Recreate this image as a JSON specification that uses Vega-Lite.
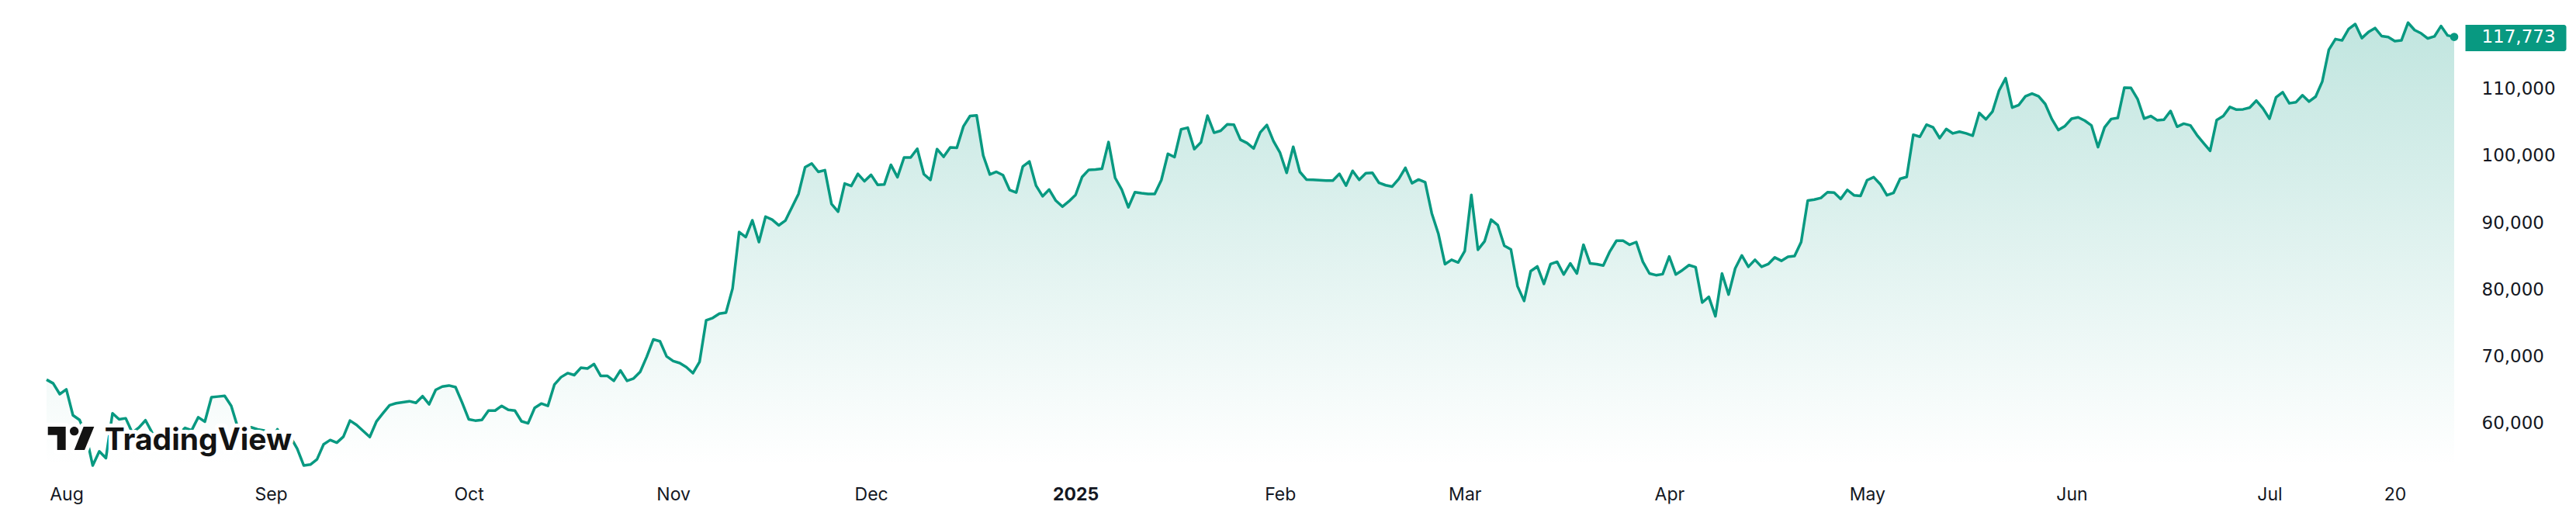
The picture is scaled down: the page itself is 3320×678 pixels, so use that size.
{"$schema":"https://vega.github.io/schema/vega-lite/v6.json","width":3103,"height":600,"autosize":"none","padding":{"left":60,"top":0,"right":157,"bottom":78},"background":"white","config":{"view":{"stroke":null},"font":"Inter"},
"datasets":{"btc":[
{"date":"2024-07-29","price":66520},{"date":"2024-07-30","price":65970},{"date":"2024-07-31","price":64360},
{"date":"2024-08-01","price":65065},{"date":"2024-08-02","price":61200},{"date":"2024-08-03","price":60500},{"date":"2024-08-04","price":58200},{"date":"2024-08-05","price":53680},{"date":"2024-08-06","price":55800},{"date":"2024-08-07","price":54800},{"date":"2024-08-08","price":61500},{"date":"2024-08-09","price":60600},{"date":"2024-08-10","price":60750},{"date":"2024-08-11","price":58600},{"date":"2024-08-12","price":59350},{"date":"2024-08-13","price":60450},{"date":"2024-08-14","price":58600},{"date":"2024-08-15","price":57500},{"date":"2024-08-16","price":58900},{"date":"2024-08-17","price":59500},{"date":"2024-08-18","price":58400},{"date":"2024-08-19","price":59300},{"date":"2024-08-20","price":58950},{"date":"2024-08-21","price":60900},{"date":"2024-08-22","price":60250},{"date":"2024-08-23","price":63900},{"date":"2024-08-24","price":64000},{"date":"2024-08-25","price":64100},{"date":"2024-08-26","price":62600},{"date":"2024-08-27","price":59350},{"date":"2024-08-28","price":59000},{"date":"2024-08-29","price":59400},{"date":"2024-08-30","price":59100},{"date":"2024-08-31","price":58900},
{"date":"2024-09-01","price":57300},{"date":"2024-09-02","price":59100},{"date":"2024-09-03","price":57500},{"date":"2024-09-04","price":57950},{"date":"2024-09-05","price":56200},{"date":"2024-09-06","price":53680},{"date":"2024-09-07","price":53830},{"date":"2024-09-08","price":54600},{"date":"2024-09-09","price":56850},{"date":"2024-09-10","price":57500},{"date":"2024-09-11","price":57100},{"date":"2024-09-12","price":58000},{"date":"2024-09-13","price":60400},{"date":"2024-09-14","price":59750},{"date":"2024-09-15","price":58850},{"date":"2024-09-16","price":57950},{"date":"2024-09-17","price":60250},{"date":"2024-09-18","price":61500},{"date":"2024-09-19","price":62700},{"date":"2024-09-20","price":63000},{"date":"2024-09-21","price":63150},{"date":"2024-09-22","price":63300},{"date":"2024-09-23","price":63050},{"date":"2024-09-24","price":64050},{"date":"2024-09-25","price":62850},{"date":"2024-09-26","price":65000},{"date":"2024-09-27","price":65500},{"date":"2024-09-28","price":65650},{"date":"2024-09-29","price":65400},{"date":"2024-09-30","price":63100},
{"date":"2024-10-01","price":60600},{"date":"2024-10-02","price":60400},{"date":"2024-10-03","price":60500},{"date":"2024-10-04","price":61900},{"date":"2024-10-05","price":61900},{"date":"2024-10-06","price":62600},{"date":"2024-10-07","price":62000},{"date":"2024-10-08","price":61900},{"date":"2024-10-09","price":60300},{"date":"2024-10-10","price":60000},{"date":"2024-10-11","price":62300},{"date":"2024-10-12","price":62950},{"date":"2024-10-13","price":62600},{"date":"2024-10-14","price":65800},{"date":"2024-10-15","price":66900},{"date":"2024-10-16","price":67500},{"date":"2024-10-17","price":67200},{"date":"2024-10-18","price":68300},{"date":"2024-10-19","price":68200},{"date":"2024-10-20","price":68850},{"date":"2024-10-21","price":67100},{"date":"2024-10-22","price":67100},{"date":"2024-10-23","price":66350},{"date":"2024-10-24","price":67900},{"date":"2024-10-25","price":66350},{"date":"2024-10-26","price":66700},{"date":"2024-10-27","price":67700},{"date":"2024-10-28","price":69980},{"date":"2024-10-29","price":72550},{"date":"2024-10-30","price":72250},{"date":"2024-10-31","price":70000},
{"date":"2024-11-01","price":69300},{"date":"2024-11-02","price":69000},{"date":"2024-11-03","price":68400},{"date":"2024-11-04","price":67500},{"date":"2024-11-05","price":69200},{"date":"2024-11-06","price":75400},{"date":"2024-11-07","price":75750},{"date":"2024-11-08","price":76400},{"date":"2024-11-09","price":76550},{"date":"2024-11-10","price":80150},{"date":"2024-11-11","price":88600},{"date":"2024-11-12","price":87850},{"date":"2024-11-13","price":90350},{"date":"2024-11-14","price":87100},{"date":"2024-11-15","price":90900},{"date":"2024-11-16","price":90450},{"date":"2024-11-17","price":89600},{"date":"2024-11-18","price":90300},{"date":"2024-11-19","price":92300},{"date":"2024-11-20","price":94300},{"date":"2024-11-21","price":98300},{"date":"2024-11-22","price":98850},{"date":"2024-11-23","price":97600},{"date":"2024-11-24","price":97850},{"date":"2024-11-25","price":92800},{"date":"2024-11-26","price":91650},{"date":"2024-11-27","price":95850},{"date":"2024-11-28","price":95500},{"date":"2024-11-29","price":97300},{"date":"2024-11-30","price":96200},
{"date":"2024-12-01","price":97150},{"date":"2024-12-02","price":95650},{"date":"2024-12-03","price":95700},{"date":"2024-12-04","price":98650},{"date":"2024-12-05","price":96800},{"date":"2024-12-06","price":99750},{"date":"2024-12-07","price":99750},{"date":"2024-12-08","price":101050},{"date":"2024-12-09","price":97250},{"date":"2024-12-10","price":96400},{"date":"2024-12-11","price":101000},{"date":"2024-12-12","price":99850},{"date":"2024-12-13","price":101250},{"date":"2024-12-14","price":101200},{"date":"2024-12-15","price":104400},{"date":"2024-12-16","price":105950},{"date":"2024-12-17","price":106050},{"date":"2024-12-18","price":100050},{"date":"2024-12-19","price":97200},{"date":"2024-12-20","price":97600},{"date":"2024-12-21","price":97100},{"date":"2024-12-22","price":94900},{"date":"2024-12-23","price":94500},{"date":"2024-12-24","price":98400},{"date":"2024-12-25","price":99150},{"date":"2024-12-26","price":95550},{"date":"2024-12-27","price":93950},{"date":"2024-12-28","price":94950},{"date":"2024-12-29","price":93300},{"date":"2024-12-30","price":92400},{"date":"2024-12-31","price":93200},
{"date":"2025-01-01","price":94150},{"date":"2025-01-02","price":96850},{"date":"2025-01-03","price":97900},{"date":"2025-01-04","price":97950},{"date":"2025-01-05","price":98050},{"date":"2025-01-06","price":102050},{"date":"2025-01-07","price":96700},{"date":"2025-01-08","price":94950},{"date":"2025-01-09","price":92300},{"date":"2025-01-10","price":94550},{"date":"2025-01-11","price":94400},{"date":"2025-01-12","price":94300},{"date":"2025-01-13","price":94300},{"date":"2025-01-14","price":96350},{"date":"2025-01-15","price":100300},{"date":"2025-01-16","price":99800},{"date":"2025-01-17","price":103950},{"date":"2025-01-18","price":104200},{"date":"2025-01-19","price":101000},{"date":"2025-01-20","price":102000},{"date":"2025-01-21","price":106000},{"date":"2025-01-22","price":103450},{"date":"2025-01-23","price":103750},{"date":"2025-01-24","price":104700},{"date":"2025-01-25","price":104650},{"date":"2025-01-26","price":102400},{"date":"2025-01-27","price":101900},{"date":"2025-01-28","price":101100},{"date":"2025-01-29","price":103500},{"date":"2025-01-30","price":104600},{"date":"2025-01-31","price":102200},
{"date":"2025-02-01","price":100450},{"date":"2025-02-02","price":97450},{"date":"2025-02-03","price":101350},{"date":"2025-02-04","price":97600},{"date":"2025-02-05","price":96450},{"date":"2025-02-06","price":96400},{"date":"2025-02-07","price":96350},{"date":"2025-02-08","price":96300},{"date":"2025-02-09","price":96300},{"date":"2025-02-10","price":97300},{"date":"2025-02-11","price":95550},{"date":"2025-02-12","price":97750},{"date":"2025-02-13","price":96400},{"date":"2025-02-14","price":97400},{"date":"2025-02-15","price":97450},{"date":"2025-02-16","price":95950},{"date":"2025-02-17","price":95600},{"date":"2025-02-18","price":95400},{"date":"2025-02-19","price":96550},{"date":"2025-02-20","price":98200},{"date":"2025-02-21","price":95900},{"date":"2025-02-22","price":96450},{"date":"2025-02-23","price":96050},{"date":"2025-02-24","price":91400},{"date":"2025-02-25","price":88350},{"date":"2025-02-26","price":83800},{"date":"2025-02-27","price":84450},{"date":"2025-02-28","price":84050},
{"date":"2025-03-01","price":85750},{"date":"2025-03-02","price":94150},{"date":"2025-03-03","price":85950},{"date":"2025-03-04","price":87200},{"date":"2025-03-05","price":90450},{"date":"2025-03-06","price":89650},{"date":"2025-03-07","price":86550},{"date":"2025-03-08","price":86000},{"date":"2025-03-09","price":80500},{"date":"2025-03-10","price":78300},{"date":"2025-03-11","price":82750},{"date":"2025-03-12","price":83450},{"date":"2025-03-13","price":80850},{"date":"2025-03-14","price":83800},{"date":"2025-03-15","price":84150},{"date":"2025-03-16","price":82250},{"date":"2025-03-17","price":83900},{"date":"2025-03-18","price":82400},{"date":"2025-03-19","price":86700},{"date":"2025-03-20","price":83900},{"date":"2025-03-21","price":83800},{"date":"2025-03-22","price":83600},{"date":"2025-03-23","price":85700},{"date":"2025-03-24","price":87300},{"date":"2025-03-25","price":87300},{"date":"2025-03-26","price":86700},{"date":"2025-03-27","price":87100},{"date":"2025-03-28","price":84150},{"date":"2025-03-29","price":82400},{"date":"2025-03-30","price":82150},{"date":"2025-03-31","price":82300},
{"date":"2025-04-01","price":84950},{"date":"2025-04-02","price":82250},{"date":"2025-04-03","price":82900},{"date":"2025-04-04","price":83650},{"date":"2025-04-05","price":83350},{"date":"2025-04-06","price":78050},{"date":"2025-04-07","price":78900},{"date":"2025-04-08","price":76000},{"date":"2025-04-09","price":82400},{"date":"2025-04-10","price":79250},{"date":"2025-04-11","price":83150},{"date":"2025-04-12","price":85100},{"date":"2025-04-13","price":83400},{"date":"2025-04-14","price":84450},{"date":"2025-04-15","price":83400},{"date":"2025-04-16","price":83800},{"date":"2025-04-17","price":84800},{"date":"2025-04-18","price":84300},{"date":"2025-04-19","price":84900},{"date":"2025-04-20","price":85000},{"date":"2025-04-21","price":87100},{"date":"2025-04-22","price":93300},{"date":"2025-04-23","price":93450},{"date":"2025-04-24","price":93700},{"date":"2025-04-25","price":94550},{"date":"2025-04-26","price":94500},{"date":"2025-04-27","price":93550},{"date":"2025-04-28","price":94900},{"date":"2025-04-29","price":94100},{"date":"2025-04-30","price":94000},
{"date":"2025-05-01","price":96350},{"date":"2025-05-02","price":96800},{"date":"2025-05-03","price":95750},{"date":"2025-05-04","price":94100},{"date":"2025-05-05","price":94450},{"date":"2025-05-06","price":96550},{"date":"2025-05-07","price":96850},{"date":"2025-05-08","price":103150},{"date":"2025-05-09","price":102850},{"date":"2025-05-10","price":104650},{"date":"2025-05-11","price":104250},{"date":"2025-05-12","price":102650},{"date":"2025-05-13","price":104000},{"date":"2025-05-14","price":103350},{"date":"2025-05-15","price":103600},{"date":"2025-05-16","price":103350},{"date":"2025-05-17","price":103000},{"date":"2025-05-18","price":106400},{"date":"2025-05-19","price":105450},{"date":"2025-05-20","price":106600},{"date":"2025-05-21","price":109750},{"date":"2025-05-22","price":111600},{"date":"2025-05-23","price":107200},{"date":"2025-05-24","price":107600},{"date":"2025-05-25","price":108900},{"date":"2025-05-26","price":109300},{"date":"2025-05-27","price":108900},{"date":"2025-05-28","price":107750},{"date":"2025-05-29","price":105500},{"date":"2025-05-30","price":103850},{"date":"2025-05-31","price":104450},
{"date":"2025-06-01","price":105550},{"date":"2025-06-02","price":105750},{"date":"2025-06-03","price":105250},{"date":"2025-06-04","price":104550},{"date":"2025-06-05","price":101300},{"date":"2025-06-06","price":104250},{"date":"2025-06-07","price":105500},{"date":"2025-06-08","price":105650},{"date":"2025-06-09","price":110200},{"date":"2025-06-10","price":110150},{"date":"2025-06-11","price":108500},{"date":"2025-06-12","price":105550},{"date":"2025-06-13","price":105950},{"date":"2025-06-14","price":105300},{"date":"2025-06-15","price":105400},{"date":"2025-06-16","price":106700},{"date":"2025-06-17","price":104350},{"date":"2025-06-18","price":104800},{"date":"2025-06-19","price":104550},{"date":"2025-06-20","price":103100},{"date":"2025-06-21","price":101900},{"date":"2025-06-22","price":100750},{"date":"2025-06-23","price":105350},{"date":"2025-06-24","price":105950},{"date":"2025-06-25","price":107300},{"date":"2025-06-26","price":106900},{"date":"2025-06-27","price":106950},{"date":"2025-06-28","price":107200},{"date":"2025-06-29","price":108250},{"date":"2025-06-30","price":107100},
{"date":"2025-07-01","price":105550},{"date":"2025-07-02","price":108750},{"date":"2025-07-03","price":109500},{"date":"2025-07-04","price":107850},{"date":"2025-07-05","price":108000},{"date":"2025-07-06","price":109050},{"date":"2025-07-07","price":108100},{"date":"2025-07-08","price":108850},{"date":"2025-07-09","price":111100},{"date":"2025-07-10","price":115850},{"date":"2025-07-11","price":117450},{"date":"2025-07-12","price":117250},{"date":"2025-07-13","price":118950},{"date":"2025-07-14","price":119700},{"date":"2025-07-15","price":117600},{"date":"2025-07-16","price":118500},{"date":"2025-07-17","price":119100},{"date":"2025-07-18","price":117900},{"date":"2025-07-19","price":117750},{"date":"2025-07-20","price":117150},{"date":"2025-07-21","price":117250},{"date":"2025-07-22","price":119900},{"date":"2025-07-23","price":118800},{"date":"2025-07-24","price":118300},{"date":"2025-07-25","price":117550},{"date":"2025-07-26","price":117850},{"date":"2025-07-27","price":119400},{"date":"2025-07-28","price":118000},{"date":"2025-07-29","price":117773}
]},
"layer":[
{"data":{"name":"btc"},"mark":{"type":"area","line":false,"fill":{"gradient":"linear","x1":0,"y1":0,"x2":0,"y2":1,"stops":[{"offset":0,"color":"rgba(8,153,129,0.25)"},{"offset":1,"color":"rgba(8,153,129,0)"}]}},
"encoding":{"x":{"field":"date","type":"temporal","scale":{"type":"utc","domain":["2024-07-29T00:00:00Z","2025-07-29T00:00:00Z"]},"title":null,"axis":{"domain":false,"ticks":false,"grid":false,"title":null,"labelFontSize":23,"labelColor":"#131722","labelFont":"Inter","labelPadding":37,"labelBaseline":"middle","labelAlign":"center","labelOverlap":false,"labelBound":false,"labelFlush":false,"values":["2024-08-01T00:00:00Z","2024-09-01T00:00:00Z","2024-10-01T00:00:00Z","2024-11-01T00:00:00Z","2024-12-01T00:00:00Z","2025-01-01T00:00:00Z","2025-02-01T00:00:00Z","2025-03-01T00:00:00Z","2025-04-01T00:00:00Z","2025-05-01T00:00:00Z","2025-06-01T00:00:00Z","2025-07-01T00:00:00Z","2025-07-20T00:00:00Z"],"labelExpr":"utcdate(datum.value)==20 ? '20' : utcmonth(datum.value)==0 ? '2025' : utcFormat(datum.value,'%b')","labelFontWeight":{"condition":{"test":"utcmonth(datum.value)==0","value":700},"value":400}}},
"y":{"field":"price","type":"quantitative","scale":{"domain":[53689,123295],"nice":false,"zero":false},"title":null,"axis":{"orient":"right","domain":false,"ticks":false,"grid":false,"title":null,"values":[60000,70000,80000,90000,100000,110000],"format":",d","labelFontSize":23,"labelColor":"#131722","labelFont":"DejaVu Sans","labelAlign":"left","labelPadding":35,"labelBaseline":"middle"}},
"y2":{"datum":53689}}},
{"data":{"name":"btc"},"mark":{"type":"line","color":"#089981","strokeWidth":3.5,"strokeJoin":"round","clip":false},"encoding":{"x":{"field":"date","type":"temporal"},"y":{"field":"price","type":"quantitative"}}},
{"data":{"values":[{"date":"2025-07-29","price":117773}]},"mark":{"type":"point","filled":true,"color":"#089981","size":113,"opacity":1,"shape":"circle"},"encoding":{"x":{"field":"date","type":"temporal"},"y":{"field":"price","type":"quantitative"}}},
{"data":{"values":[{"start":"2025-07-30T17:00:00Z","end":"2025-08-15T00:00:00Z","top":119582,"bottom":115638}]},"mark":{"type":"rect","color":"#089981","cornerRadiusTopRight":3,"cornerRadiusBottomRight":3},"encoding":{"x":{"field":"start","type":"temporal"},"x2":{"field":"end"},"y":{"field":"top","type":"quantitative"},"y2":{"field":"bottom"}}},
{"data":{"values":[{"date":"2025-08-02T04:00:00Z","price":117773,"label":"117,773"}]},"mark":{"type":"text","align":"left","baseline":"middle","font":"DejaVu Sans","fontSize":23,"color":"white"},"encoding":{"x":{"field":"date","type":"temporal"},"y":{"field":"price","type":"quantitative"},"text":{"field":"label"}}},
{"data":{"values":[{"date":"2024-08-01T17:00:00Z","price":57750}]},"mark":{"type":"point","shape":"M-0.994,-0.5L-0.228,-0.5L-0.228,0.5L-0.594,0.5L-0.594,-0.144L-0.994,-0.144ZM0.539,-0.5L0.994,-0.5L0.583,0.5L0.139,0.5ZM-0.05,-0.311C-0.05,-0.415,0.035,-0.5,0.139,-0.5C0.243,-0.5,0.328,-0.415,0.328,-0.311C0.328,-0.207,0.243,-0.122,0.139,-0.122C0.035,-0.122,-0.05,-0.207,-0.05,-0.311Z","size":3600,"filled":true,"fill":"white","stroke":"white","strokeWidth":10,"strokeJoin":"round","opacity":1},"encoding":{"x":{"field":"date","type":"temporal"},"y":{"field":"price","type":"quantitative"}}},
{"data":{"values":[{"date":"2024-08-06T19:00:00Z","price":56009,"label":"TradingView"}]},"mark":{"type":"text","align":"left","baseline":"alphabetic","font":"Inter","fontSize":39,"fontWeight":700,"color":"white","stroke":"white","strokeWidth":10,"strokeJoin":"round"},"encoding":{"x":{"field":"date","type":"temporal"},"y":{"field":"price","type":"quantitative"},"text":{"field":"label"}}},
{"data":{"values":[{"date":"2024-08-01T17:00:00Z","price":57750}]},"mark":{"type":"point","shape":"M-0.994,-0.5L-0.228,-0.5L-0.228,0.5L-0.594,0.5L-0.594,-0.144L-0.994,-0.144ZM0.539,-0.5L0.994,-0.5L0.583,0.5L0.139,0.5ZM-0.05,-0.311C-0.05,-0.415,0.035,-0.5,0.139,-0.5C0.243,-0.5,0.328,-0.415,0.328,-0.311C0.328,-0.207,0.243,-0.122,0.139,-0.122C0.035,-0.122,-0.05,-0.207,-0.05,-0.311Z","size":3600,"filled":true,"fill":"#131313","strokeWidth":0,"opacity":1},"encoding":{"x":{"field":"date","type":"temporal"},"y":{"field":"price","type":"quantitative"}}},
{"data":{"values":[{"date":"2024-08-06T19:00:00Z","price":56009,"label":"TradingView"}]},"mark":{"type":"text","align":"left","baseline":"alphabetic","font":"Inter","fontSize":39,"fontWeight":700,"color":"#131313"},"encoding":{"x":{"field":"date","type":"temporal"},"y":{"field":"price","type":"quantitative"},"text":{"field":"label"}}}
]}
